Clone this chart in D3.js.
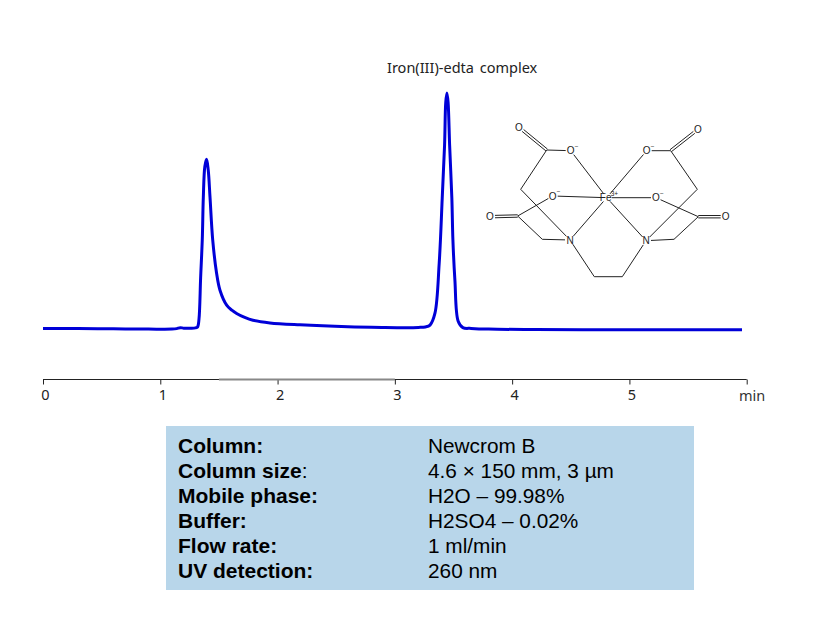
<!DOCTYPE html>
<html><head><meta charset="utf-8">
<script src="https://cdn.jsdelivr.net/npm/d3@7"></script>
<style>html,body{margin:0;padding:0;background:#fff}svg{display:block}</style>
</head><body><svg id="c" width="821" height="627"></svg>
<script>
// retention time (min) and detector signal (% of tallest peak)
const times = [0,0.3,0.6,0.9,1.1,1.14,1.17,1.2,1.25,1.3,1.318,1.33,1.344,1.358,1.367,1.38,1.395,1.409,1.424,1.447,1.48,1.509,1.566,1.61,1.651,1.72,1.79,1.935,2.19,2.6,2.9,3.1,3.2,3.26,3.3,3.342,3.378,3.404,3.424,3.434,3.444,3.454,3.467,3.486,3.495,3.512,3.54,3.58,3.65,3.8,4.2,4.6,5,5.5,5.96];
const signal = [0.5,0.5,0.4,0.3,0.3,0.5,0.9,0.7,0.7,0.8,1.2,4.5,22,38,56,69,72,67.4,56,38,23.9,16.7,10.4,8.3,6.9,5.2,4,2.9,2.1,1.3,1,0.9,1,1.2,2,7,28,55.6,78,96,100,96,78,55.6,38,21,3.6,0.9,0.6,0.3,0.1,0,0,0,0];
const tickValues = [0,1,2,3,4,5];
const tickEnd = 6;
const fadedAxisSpan = [1.5,3];
const peakLabel = "Iron(III)-edta complex";
const axisUnit = "min";
const tableKeys = ["Column:","Column size","Mobile phase:","Buffer:","Flow rate:","UV detection:"];
const tableVals = ["Newcrom B","4.6 × 150 mm, 3 µm","H2O – 99.98%","H2SO4 – 0.02%","1 ml/min","260 nm"];
// molecule drawing
const atoms = [
 {id:"O1",x:519,y:127.3,t:"O"},{id:"C1",x:546.7,y:150},{id:"O2",x:570.7,y:150.7,t:"O",s:"−"},
 {id:"Fe",x:606.7,y:197.7,t:"Fe",s:"3+"},{id:"C2",x:520.7,y:189.3},{id:"N1",x:570,y:240,t:"N"},
 {id:"O3",x:552.7,y:196,t:"O",s:"−"},{id:"C3",x:517.7,y:216},{id:"O4",x:490,y:216.7,t:"O"},
 {id:"C4",x:542.3,y:239.3},{id:"C5",x:594.3,y:276.7},{id:"C6",x:622.3,y:276.7},
 {id:"N2",x:646,y:240.7,t:"N"},{id:"C7",x:674,y:239.3},{id:"C8",x:698.3,y:216.7},
 {id:"O5",x:725.7,y:216.7,t:"O"},{id:"O6",x:656,y:197.7,t:"O",s:"−"},{id:"C9",x:670.7,y:150.7},
 {id:"O7",x:646.7,y:150.7,t:"O",s:"−"},{id:"O8",x:698,y:129.3,t:"O"},{id:"C10",x:697.3,y:189.3}
];
const bonds = [["O1","C1",2],["C1","O2",1],["O2","Fe",1],["C1","C2",1],["C2","N1",1],["N1","Fe",1],["O3","Fe",1],["O3","C3",1],["C3","O4",2],["C3","C4",1],["C4","N1",1],["N1","C5",1],["C5","C6",1],["C6","N2",1],["N2","Fe",1],["N2","C7",1],["C7","C8",1],["C8","O5",2],["C8","O6",1],["O6","Fe",1],["O7","Fe",1],["O7","C9",1],["C9","O8",2],["C9","C10",1],["C10","N2",1]];

const svg = d3.select("#c");
const x = d3.scaleLinear().domain([0,6]).range([43,746.7]);
const y = d3.scaleLinear().domain([0,100]).range([329.8,93]);

// trace
svg.append("path").datum(times.map((t,i)=>[t,signal[i]]))
  .attr("fill","none").attr("stroke","#0000d8").attr("stroke-width",3)
  .attr("stroke-linejoin","round")
  .attr("d",d3.line().x(d=>x(d[0])).y(d=>y(d[1])).curve(d3.curveCatmullRom.alpha(0.5)));

// axis
const ax = svg.append("g").attr("transform","translate(0,379.5)")
  .call(d3.axisBottom(x).tickValues([...tickValues,tickEnd]).tickSize(5).tickPadding(5).tickFormat(d=>tickValues.includes(d)?d:""));
ax.selectAll("path,line").attr("stroke","#222").attr("stroke-width",1);
ax.select(".domain").attr("d",`M${x(0)},0H${x(tickEnd)}`);
ax.selectAll("text").attr("font-family","'Noto Sans'").attr("font-size",14.5).attr("fill","#222").attr("dx",2);
ax.append("line").attr("x1",x(fadedAxisSpan[0])).attr("x2",x(fadedAxisSpan[1])).attr("y1",0).attr("y2",0)
  .attr("stroke","#888").attr("stroke-width",2);
svg.append("text").attr("x",739).attr("y",400.5).attr("font-family","'Noto Sans'").attr("font-size",14.5).attr("fill","#333").text(axisUnit);
svg.append("text").attr("x",387).attr("y",73).attr("font-family","'Noto Sans'").attr("font-size",14.5).attr("word-spacing",2).attr("fill","#222").text(peakLabel);

// molecule
const byId = Object.fromEntries(atoms.map(a=>[a.id,a]));
const mol = svg.append("g").attr("stroke","#222").attr("stroke-width",1);
function trim(a,b){const dx=b.x-a.x,dy=b.y-a.y,L=Math.hypot(dx,dy);const ta=a.t?5/L:0,tb=b.t?5/L:0;
 return [a.x+dx*ta,a.y+dy*ta,b.x-dx*tb,b.y-dy*tb,-dy/L,dx/L];}
bonds.forEach(([p,q,n])=>{const [x1,y1,x2,y2,nx,ny]=trim(byId[p],byId[q]);
 const offs=n===2?[-1.2,1.2]:[0];
 offs.forEach(o=>mol.append("line").attr("x1",x1+nx*o).attr("y1",y1+ny*o).attr("x2",x2+nx*o).attr("y2",y2+ny*o));});
const lab = svg.append("g").attr("font-family","'Liberation Sans'").attr("fill","#222");
atoms.filter(a=>a.t).forEach(a=>{
 lab.append("text").attr("x",a.x-(a.t==="Fe"?1:0)).attr("y",a.y+3.5).attr("text-anchor","middle").attr("font-size",10).text(a.t);
 if(a.s) lab.append("text").attr("x",a.x+4).attr("y",a.y-2).attr("font-size",6.5).text(a.s);
});

// info table
svg.append("rect").attr("x",166).attr("y",426).attr("width",528).attr("height",164).attr("fill","#b8d6ea");
const rowY = d3.scalePoint().domain(d3.range(tableKeys.length)).range([453,578]);
const tbl = svg.append("g").attr("font-family","'Liberation Sans'").attr("fill","#000");
tableKeys.forEach((k,i)=>{
 const t = tbl.append("text").attr("x",178).attr("y",rowY(i)).attr("font-weight","bold").attr("font-size",21).text(k);
 if(k==="Column size") t.append("tspan").attr("font-weight","normal").text(":");
 tbl.append("text").attr("x",428).attr("y",rowY(i)).attr("font-size",20.8).text(tableVals[i]);
});
</script></body></html>
